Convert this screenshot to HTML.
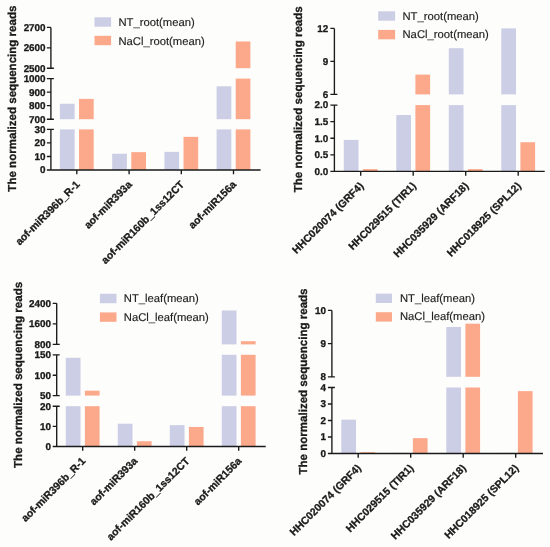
<!DOCTYPE html>
<html><head><meta charset="utf-8"><style>
html,body{margin:0;padding:0;background:#fdfdfc;}
svg{display:block;text-rendering:geometricPrecision;}
text{font-family:"Liberation Sans",Arial,sans-serif;fill:#1a1a1a;stroke:#1a1a1a;stroke-width:0.3px;}
.t{font-size:11.55px;font-weight:bold;}
.y{font-size:9.9px;font-weight:bold;}
.x{font-size:10.5px;font-weight:bold;}
.l{font-size:11.25px;fill:#222;stroke:#222;stroke-width:0.15px;}
</style></head><body>
<svg width="550" height="547" viewBox="0 0 550 547">
<rect width="550" height="547" fill="#fdfdfc"/>
<text class="t" transform="translate(15.9 98.6) rotate(-90)" text-anchor="middle">The normalized sequencing reads</text>
<rect x="59.90" y="103.77" width="14.7" height="15.43" fill="#cbcee4"/>
<rect x="59.90" y="129.40" width="14.7" height="40.60" fill="#cbcee4"/>
<rect x="79.00" y="98.90" width="14.7" height="20.30" fill="#fca98b"/>
<rect x="79.00" y="129.40" width="14.7" height="40.60" fill="#fca98b"/>
<rect x="112.20" y="153.76" width="14.7" height="16.24" fill="#cbcee4"/>
<rect x="131.30" y="152.14" width="14.7" height="17.86" fill="#fca98b"/>
<rect x="164.40" y="151.87" width="14.7" height="18.13" fill="#cbcee4"/>
<rect x="183.50" y="136.84" width="14.7" height="33.16" fill="#fca98b"/>
<rect x="216.60" y="86.31" width="14.7" height="32.89" fill="#cbcee4"/>
<rect x="216.60" y="129.40" width="14.7" height="40.60" fill="#cbcee4"/>
<rect x="235.70" y="41.48" width="14.7" height="26.72" fill="#fca98b"/>
<rect x="235.70" y="78.60" width="14.7" height="40.60" fill="#fca98b"/>
<rect x="235.70" y="129.40" width="14.7" height="40.60" fill="#fca98b"/>
<text class="y" x="45.60" y="71.57" text-anchor="end">2500</text>
<text class="y" x="45.60" y="51.17" text-anchor="end">2600</text>
<text class="y" x="45.60" y="30.77" text-anchor="end">2700</text>
<text class="y" x="45.60" y="122.57" text-anchor="end">700</text>
<text class="y" x="45.60" y="109.04" text-anchor="end">800</text>
<text class="y" x="45.60" y="95.50" text-anchor="end">900</text>
<text class="y" x="45.60" y="81.97" text-anchor="end">1000</text>
<text class="y" x="45.60" y="173.37" text-anchor="end">0</text>
<text class="y" x="45.60" y="159.84" text-anchor="end">10</text>
<text class="y" x="45.60" y="146.30" text-anchor="end">20</text>
<text class="y" x="45.60" y="132.77" text-anchor="end">30</text>
<path d="M50.90 27.40V68.20 M46.90 68.20H53.90 M46.90 68.20H50.90 M46.90 47.80H50.90 M46.90 27.40H50.90 M50.90 78.60V119.20 M46.90 78.60H53.90 M46.90 119.20H53.90 M46.90 119.20H50.90 M46.90 105.67H50.90 M46.90 92.13H50.90 M46.90 78.60H50.90 M50.90 129.40V170.00 M46.90 129.40H53.90 M46.90 170.00H53.90 M46.90 170.00H50.90 M46.90 156.47H50.90 M46.90 142.93H50.90 M46.90 129.40H50.90 M46.90 170.00H260.60 M76.80 170.00V174.30 M129.10 170.00V174.30 M181.30 170.00V174.30 M233.50 170.00V174.30" stroke="#1a1a1a" stroke-width="1.35" fill="none"/>
<text class="x" transform="translate(80.30 185.20) rotate(-45)" text-anchor="end">aof-miR396b_R-1</text>
<text class="x" transform="translate(132.60 185.20) rotate(-45)" text-anchor="end">aof-miR393a</text>
<text class="x" transform="translate(184.80 185.20) rotate(-45)" text-anchor="end">aof-miR160b_1ss12CT</text>
<text class="x" transform="translate(237.00 185.20) rotate(-45)" text-anchor="end">aof-miR156a</text>
<rect x="94.5" y="17.3" width="16.6" height="9.4" fill="#cbcee4"/>
<rect x="94.5" y="35.8" width="16.6" height="9.4" fill="#fca98b"/>
<text class="l" x="118.4" y="26.00">NT_root(mean)</text>
<text class="l" x="118.4" y="44.50">NaCl_root(mean)</text>
<text class="t" transform="translate(302 99.3) rotate(-90)" text-anchor="middle">The normalized sequencing reads</text>
<rect x="343.80" y="139.91" width="14.7" height="31.49" fill="#cbcee4"/>
<rect x="362.90" y="169.08" width="14.7" height="2.32" fill="#fca98b"/>
<rect x="396.30" y="115.04" width="14.7" height="56.36" fill="#cbcee4"/>
<rect x="415.40" y="74.60" width="14.7" height="19.80" fill="#fca98b"/>
<rect x="415.40" y="105.10" width="14.7" height="66.30" fill="#fca98b"/>
<rect x="448.80" y="48.20" width="14.7" height="46.20" fill="#cbcee4"/>
<rect x="448.80" y="105.10" width="14.7" height="66.30" fill="#cbcee4"/>
<rect x="467.90" y="169.08" width="14.7" height="2.32" fill="#fca98b"/>
<rect x="501.30" y="28.40" width="14.7" height="66.00" fill="#cbcee4"/>
<rect x="501.30" y="105.10" width="14.7" height="66.30" fill="#cbcee4"/>
<rect x="520.40" y="142.23" width="14.7" height="29.17" fill="#fca98b"/>
<text class="y" x="328.20" y="97.77" text-anchor="end">6</text>
<text class="y" x="328.20" y="64.77" text-anchor="end">9</text>
<text class="y" x="328.20" y="31.77" text-anchor="end">12</text>
<text class="y" x="328.20" y="174.77" text-anchor="end">0.0</text>
<text class="y" x="328.20" y="158.20" text-anchor="end">0.5</text>
<text class="y" x="328.20" y="141.62" text-anchor="end">1.0</text>
<text class="y" x="328.20" y="125.05" text-anchor="end">1.5</text>
<text class="y" x="328.20" y="108.47" text-anchor="end">2.0</text>
<path d="M334.40 28.40V94.40 M330.40 94.40H337.40 M330.40 94.40H334.40 M330.40 61.40H334.40 M330.40 28.40H334.40 M334.40 105.10V171.40 M330.40 105.10H337.40 M330.40 171.40H337.40 M330.40 171.40H334.40 M330.40 154.82H334.40 M330.40 138.25H334.40 M330.40 121.67H334.40 M330.40 105.10H334.40 M330.40 171.40H544.70 M360.70 171.40V175.70 M413.20 171.40V175.70 M465.70 171.40V175.70 M518.20 171.40V175.70" stroke="#1a1a1a" stroke-width="1.35" fill="none"/>
<text class="x" transform="translate(364.20 186.60) rotate(-45)" text-anchor="end">HHC020074 (GRF4)</text>
<text class="x" transform="translate(416.70 186.60) rotate(-45)" text-anchor="end">HHC029515 (TIR1)</text>
<text class="x" transform="translate(469.20 186.60) rotate(-45)" text-anchor="end">HHC035929 (ARF18)</text>
<text class="x" transform="translate(521.70 186.60) rotate(-45)" text-anchor="end">HHC018925 (SPL12)</text>
<rect x="378.2" y="11.3" width="16.9" height="9.4" fill="#cbcee4"/>
<rect x="378.2" y="29.9" width="16.9" height="9.4" fill="#fca98b"/>
<text class="l" x="402.5" y="19.80">NT_root(mean)</text>
<text class="l" x="402.5" y="38.40">NaCl_root(mean)</text>
<text class="t" transform="translate(21.9 374.9) rotate(-90)" text-anchor="middle">The normalized sequencing reads</text>
<rect x="65.80" y="357.82" width="14.7" height="37.78" fill="#cbcee4"/>
<rect x="65.80" y="406.20" width="14.7" height="40.30" fill="#cbcee4"/>
<rect x="84.90" y="390.70" width="14.7" height="4.90" fill="#fca98b"/>
<rect x="84.90" y="406.20" width="14.7" height="40.30" fill="#fca98b"/>
<rect x="117.80" y="423.73" width="14.7" height="22.77" fill="#cbcee4"/>
<rect x="136.90" y="441.26" width="14.7" height="5.24" fill="#fca98b"/>
<rect x="169.80" y="425.14" width="14.7" height="21.36" fill="#cbcee4"/>
<rect x="188.90" y="426.95" width="14.7" height="19.55" fill="#fca98b"/>
<rect x="221.80" y="310.49" width="14.7" height="33.91" fill="#cbcee4"/>
<rect x="221.80" y="354.80" width="14.7" height="40.80" fill="#cbcee4"/>
<rect x="221.80" y="406.20" width="14.7" height="40.30" fill="#cbcee4"/>
<rect x="240.90" y="341.19" width="14.7" height="3.21" fill="#fca98b"/>
<rect x="240.90" y="354.80" width="14.7" height="40.80" fill="#fca98b"/>
<rect x="240.90" y="406.20" width="14.7" height="40.30" fill="#fca98b"/>
<text class="y" x="50.90" y="347.77" text-anchor="end">800</text>
<text class="y" x="50.90" y="327.22" text-anchor="end">1600</text>
<text class="y" x="50.90" y="306.67" text-anchor="end">2400</text>
<text class="y" x="50.90" y="398.97" text-anchor="end">50</text>
<text class="y" x="50.90" y="378.57" text-anchor="end">100</text>
<text class="y" x="50.90" y="358.17" text-anchor="end">150</text>
<text class="y" x="50.90" y="449.87" text-anchor="end">0</text>
<text class="y" x="50.90" y="429.72" text-anchor="end">10</text>
<text class="y" x="50.90" y="409.57" text-anchor="end">20</text>
<path d="M56.70 303.30V344.40 M52.70 344.40H59.70 M52.70 344.40H56.70 M52.70 323.85H56.70 M52.70 303.30H56.70 M56.70 354.80V395.60 M52.70 354.80H59.70 M52.70 395.60H59.70 M52.70 395.60H56.70 M52.70 375.20H56.70 M52.70 354.80H56.70 M56.70 406.20V446.50 M52.70 406.20H59.70 M52.70 446.50H59.70 M52.70 446.50H56.70 M52.70 426.35H56.70 M52.70 406.20H56.70 M52.70 446.50H265.70 M82.70 446.50V450.80 M134.70 446.50V450.80 M186.70 446.50V450.80 M238.70 446.50V450.80" stroke="#1a1a1a" stroke-width="1.35" fill="none"/>
<text class="x" transform="translate(86.20 461.70) rotate(-45)" text-anchor="end">aof-miR396b_R-1</text>
<text class="x" transform="translate(138.20 461.70) rotate(-45)" text-anchor="end">aof-miR393a</text>
<text class="x" transform="translate(190.20 461.70) rotate(-45)" text-anchor="end">aof-miR160b_1ss12CT</text>
<text class="x" transform="translate(242.20 461.70) rotate(-45)" text-anchor="end">aof-miR156a</text>
<rect x="99.9" y="293.8" width="16.6" height="9.4" fill="#cbcee4"/>
<rect x="99.9" y="312.4" width="16.6" height="9.4" fill="#fca98b"/>
<text class="l" x="123.8" y="301.90">NT_leaf(mean)</text>
<text class="l" x="123.8" y="320.50">NaCl_leaf(mean)</text>
<text class="t" transform="translate(306.7 381.5) rotate(-90)" text-anchor="middle">The normalized sequencing reads</text>
<rect x="341.30" y="419.68" width="14.7" height="33.82" fill="#cbcee4"/>
<rect x="360.40" y="452.18" width="14.7" height="1.32" fill="#fca98b"/>
<rect x="393.80" y="452.92" width="14.7" height="0.58" fill="#cbcee4"/>
<rect x="412.90" y="438.15" width="14.7" height="15.35" fill="#fca98b"/>
<rect x="446.30" y="327.00" width="14.7" height="49.80" fill="#cbcee4"/>
<rect x="446.30" y="387.50" width="14.7" height="66.00" fill="#cbcee4"/>
<rect x="465.40" y="323.68" width="14.7" height="53.12" fill="#fca98b"/>
<rect x="465.40" y="387.50" width="14.7" height="66.00" fill="#fca98b"/>
<rect x="498.80" y="452.92" width="14.7" height="0.58" fill="#cbcee4"/>
<rect x="517.90" y="391.13" width="14.7" height="62.37" fill="#fca98b"/>
<text class="y" x="326.10" y="380.17" text-anchor="end">8</text>
<text class="y" x="326.10" y="346.97" text-anchor="end">9</text>
<text class="y" x="326.10" y="313.77" text-anchor="end">10</text>
<text class="y" x="326.10" y="456.87" text-anchor="end">0</text>
<text class="y" x="326.10" y="440.37" text-anchor="end">1</text>
<text class="y" x="326.10" y="423.87" text-anchor="end">2</text>
<text class="y" x="326.10" y="407.37" text-anchor="end">3</text>
<text class="y" x="326.10" y="390.87" text-anchor="end">4</text>
<path d="M331.90 310.40V376.80 M327.90 376.80H334.90 M327.90 376.80H331.90 M327.90 343.60H331.90 M327.90 310.40H331.90 M331.90 387.50V453.50 M327.90 387.50H334.90 M327.90 453.50H334.90 M327.90 453.50H331.90 M327.90 437.00H331.90 M327.90 420.50H331.90 M327.90 404.00H331.90 M327.90 387.50H331.90 M327.90 453.50H543.00 M358.20 453.50V457.80 M410.70 453.50V457.80 M463.20 453.50V457.80 M515.70 453.50V457.80" stroke="#1a1a1a" stroke-width="1.35" fill="none"/>
<text class="x" transform="translate(361.70 468.70) rotate(-45)" text-anchor="end">HHC020074 (GRF4)</text>
<text class="x" transform="translate(414.20 468.70) rotate(-45)" text-anchor="end">HHC029515 (TIR1)</text>
<text class="x" transform="translate(466.70 468.70) rotate(-45)" text-anchor="end">HHC035929 (ARF18)</text>
<text class="x" transform="translate(519.20 468.70) rotate(-45)" text-anchor="end">HHC018925 (SPL12)</text>
<rect x="375.8" y="293.6" width="16.2" height="9.4" fill="#cbcee4"/>
<rect x="375.8" y="312.2" width="16.2" height="9.4" fill="#fca98b"/>
<text class="l" x="399.9" y="301.70">NT_leaf(mean)</text>
<text class="l" x="399.9" y="320.30">NaCl_leaf(mean)</text>
</svg>
</body></html>
